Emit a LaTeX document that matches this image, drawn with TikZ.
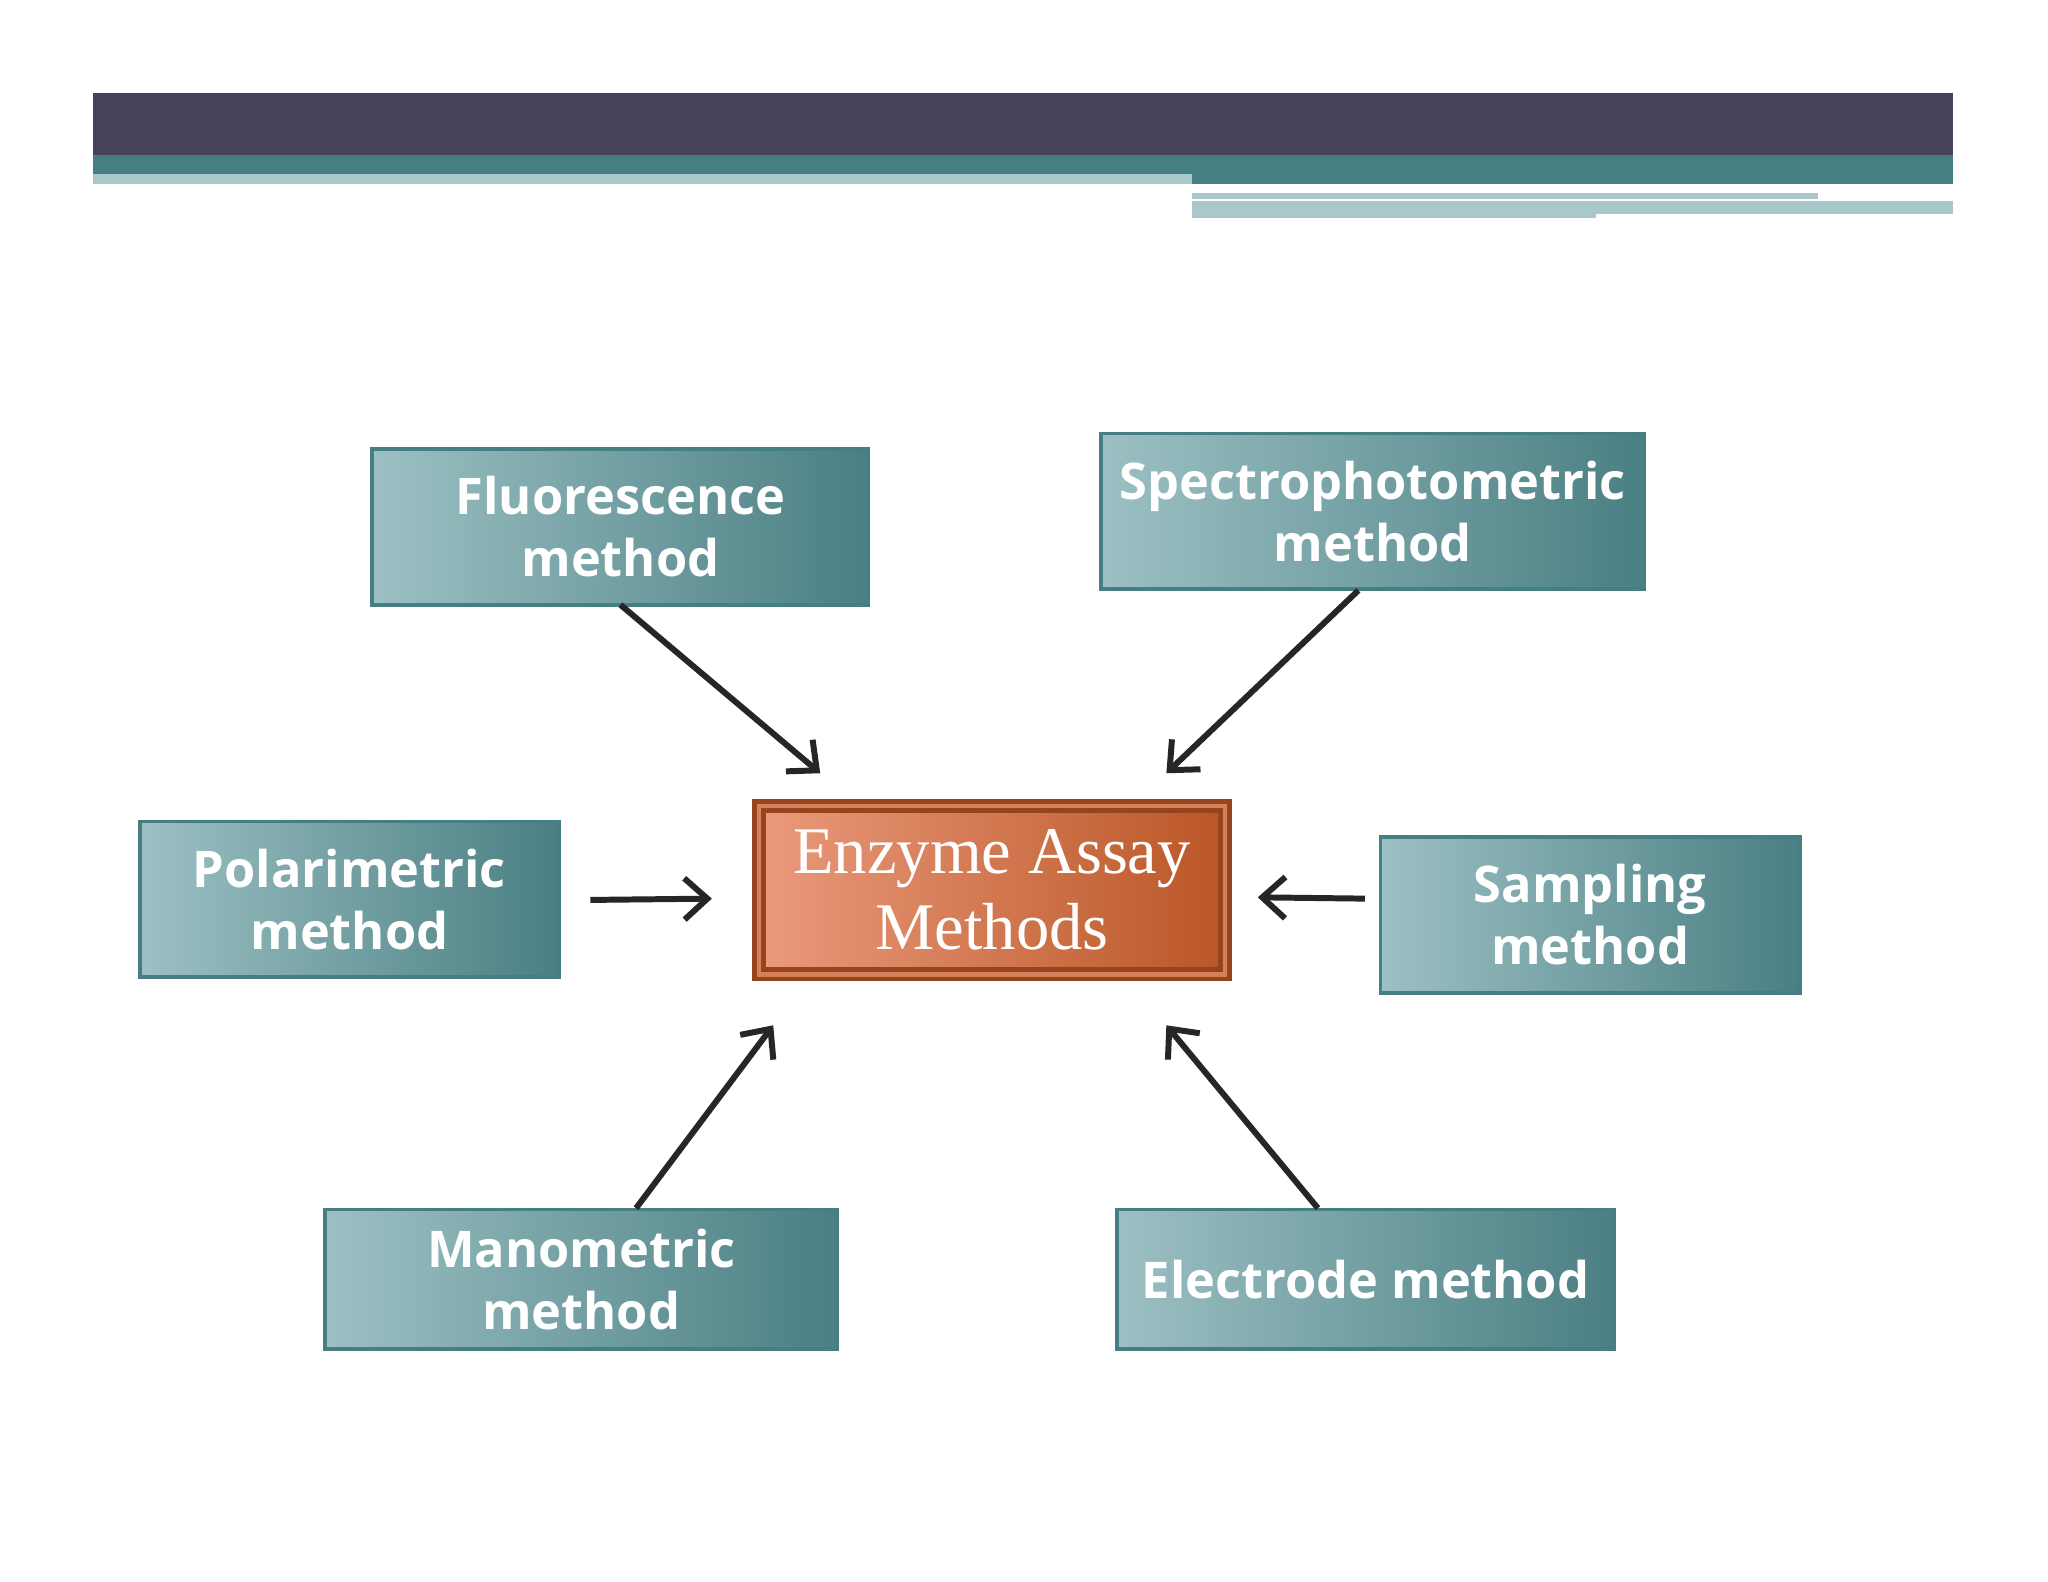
\documentclass[tikz,border=0pt]{standalone}
\usepackage{fontspec}
\setsansfont{Open Sans}
\setmainfont{Liberation Serif}
\definecolor{dark}{HTML}{454259}
\definecolor{teal}{HTML}{457F84}
\definecolor{tealL}{HTML}{9CC0C3}
\definecolor{tealR}{HTML}{4A7F83}
\definecolor{stripe}{HTML}{A9C8CA}
\definecolor{orL}{HTML}{EA9A7C}
\definecolor{orR}{HTML}{BA5626}
\begin{document}
\begin{tikzpicture}[x=0.01cm,y=-0.01cm,
  meth/.style={draw=teal,line width=0.8pt,left color=tealL,right color=tealR,text=white,
    font=\sffamily\bfseries\fontsize{11}{13.5}\selectfont,align=center,inner sep=0pt},
  arr/.style={-{Straight Barb[length=5pt,width=9pt]},line width=1.3pt,draw=black!85}]
\usetikzlibrary{arrows.meta}
\fill[white] (0,0) rectangle (1568,1211);
\useasboundingbox (0,0) rectangle (1568,1211);
% header
\fill[dark] (71,71) rectangle (1495,119);
\fill[teal] (71,119) rectangle (1495,133);
\fill[stripe] (71,133) rectangle (913,141);
\fill[teal] (913,133) rectangle (1495,141);
\fill[stripe] (913,148) rectangle (1392,152);
\fill[stripe] (913,154) rectangle (1495,167);
\fill[white] (1222,164) rectangle (1495,167);
% nodes
\node[meth,minimum width=380*0.01cm,minimum height=119*0.01cm] (flu) at (475,403.5) {Fluorescence\\method};
\node[meth,minimum width=416*0.01cm,minimum height=119*0.01cm] (spe) at (1051,391.5) {Spectrophotometric\\method};
\node[meth,minimum width=321*0.01cm,minimum height=119*0.01cm] (pol) at (267.5,688.5) {Polarimetric\\method};
\node[meth,minimum width=321*0.01cm,minimum height=119*0.01cm] (sam) at (1217.5,700.5) {Sampling\\method};
\node[meth,minimum width=392*0.01cm,minimum height=107*0.01cm] (man) at (445,979.5) {Manometric\\method};
\node[meth,minimum width=381*0.01cm,minimum height=107*0.01cm] (ele) at (1045.5,979.5) {Electrode method};
\node[draw=orR!80!black,line width=1pt,left color=orL,right color=orR,text=white,
  minimum width=357*0.01cm,minimum height=129*0.01cm,align=center,
  font=\fontsize{14.5}{16.5}\selectfont,double=orL!60!orR,double distance=1pt] (c) at (759.5,681.5) {Enzyme Assay\\Methods};
% connector endpoints
\coordinate (a1) at (475,463); \coordinate (b1) at (628,592);
\coordinate (a2) at (1040,452); \coordinate (b2) at (893,592);
\coordinate (a3) at (452,689); \coordinate (b3) at (545,688);
\coordinate (a4) at (1045,688); \coordinate (b4) at (963,687);
\coordinate (a5) at (487,925); \coordinate (b5) at (592,785);
\coordinate (a6) at (1009,925); \coordinate (b6) at (893,785);
\foreach \i in {1,...,6} \draw[arr] (a\i) -- (b\i);
\end{tikzpicture}
\end{document}
